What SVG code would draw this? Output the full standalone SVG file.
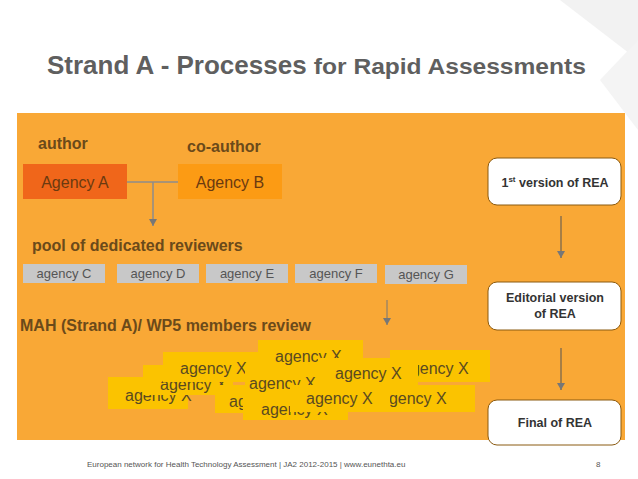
<svg xmlns="http://www.w3.org/2000/svg" width="638" height="479" viewBox="0 0 638 479">
<defs>
<style>
text{font-family:"Liberation Sans",Arial,sans-serif}
.lbl{font-weight:bold;fill:#6b4a1a;font-size:16px}
.gray rect{fill:#c8c8c8}
.gray text{fill:#555;font-size:13px;text-anchor:middle}
.y rect{fill:#fbc300}
.y text{fill:#5a4a20;font-size:16px}
.w rect{fill:#fff;stroke:#8a5a10;stroke-width:1}
.w text{fill:#333;font-size:12.5px;font-weight:bold;text-anchor:middle}
</style>
<marker id="ar" markerWidth="8" markerHeight="8" refX="7" refY="4" orient="auto" markerUnits="userSpaceOnUse"><path d="M0,0 L7,4 L0,8 Z" fill="#777"/></marker>
</defs>
<rect width="638" height="479" fill="#fff"/>
<polygon points="560,0 638,0 638,60" fill="#f2f2f2"/>
<polygon points="600,80 638,40 638,130" fill="#f4f4f4"/>
<text x="47" y="74" font-size="26" font-weight="bold" fill="#5f5f5f">Strand A - Processes <tspan font-size="22" textLength="272" lengthAdjust="spacingAndGlyphs">for Rapid Assessments</tspan></text>
<rect x="17" y="113" width="608" height="327" fill="#f9a836"/>
<g id="t-author"><text class="lbl" x="38" y="149">author</text></g>
<g id="t-coauthor"><text class="lbl" x="187" y="152">co-author</text></g>
<g id="agencyA"><rect x="23" y="164" width="104" height="35" fill="#f0661a"/><text x="75" y="188" font-size="16" fill="#6b3a10" text-anchor="middle">Agency A</text></g>
<g id="agencyB"><rect x="178" y="164" width="104" height="35" fill="#fc9b14"/><text x="230" y="188" font-size="16" fill="#6b3a10" text-anchor="middle">Agency B</text></g>
<g id="t-pool"><text class="lbl" x="32" y="251">pool of dedicated reviewers</text></g>
<g id="gC" class="gray"><rect x="23" y="264" width="82" height="19"/><text x="64" y="278">agency C</text></g>
<g id="gD" class="gray"><rect x="117" y="264" width="82" height="19"/><text x="158" y="278">agency D</text></g>
<g id="gE" class="gray"><rect x="206" y="264" width="82" height="19"/><text x="247" y="278">agency E</text></g>
<g id="gF" class="gray"><rect x="295" y="264" width="82" height="19"/><text x="336" y="278">agency F</text></g>
<g id="gG" class="gray"><rect x="385" y="265" width="82" height="19"/><text x="426" y="279">agency G</text></g>
<g id="t-mah"><text class="lbl" x="20" y="331">MAH (Strand A)/ WP5 members review</text></g>
<g id="reviewers" class="y">
<rect x="108" y="377" width="80" height="32"/><text x="125" y="401">agency X</text>
<rect x="143" y="365" width="90" height="30"/><text x="160" y="390" font-size="15">agency X</text>
<rect x="163" y="352" width="95" height="30"/><text x="180" y="374">agency X</text>
<rect x="215" y="385" width="90" height="28"/><text x="229" y="407">agency X</text>
<rect x="258" y="340" width="105" height="28"/><text x="275" y="362">agency X</text>
<rect x="245" y="365" width="85" height="30"/><text x="249" y="389" font-size="20">agency X</text>
<rect x="243" y="395" width="105" height="25"/><text x="261" y="415">agency X</text>
<rect x="390" y="350" width="100" height="32"/><text x="402" y="374">agency X</text>
<rect x="318" y="358" width="100" height="28"/><text x="335" y="379">agency X</text>
<rect x="375" y="385" width="100" height="27"/><text x="380" y="404">agency X</text>
<rect x="290" y="385" width="100" height="27"/><text x="306" y="404">agency X</text>
</g>
<g id="rea1" class="w"><rect x="488" y="158" width="133" height="47" rx="9"/><text x="555" y="187">1<tspan font-size="8" dy="-5">st</tspan><tspan dy="5"> version of REA</tspan></text></g>
<g id="rea2" class="w"><rect x="488" y="282" width="133" height="48" rx="9"/><text x="555" y="302">Editorial version</text><text x="555" y="318">of REA</text></g>
<g id="rea3" class="w"><rect x="488" y="400" width="133" height="45" rx="9"/><text x="555" y="427">Final of REA</text></g>
<g id="connectors" fill="none" stroke="#8c8c8c" stroke-width="1.5">
<path d="M127,182 H178"/>
<path d="M153,182 V226" marker-end="url(#ar)"/>
<path d="M387,300 V325" stroke="#777" stroke-width="1" marker-end="url(#ar)"/>
<path d="M561,216 V258" stroke="#555" stroke-width="1" marker-end="url(#ar)"/>
<path d="M561,348 V390" stroke="#555" stroke-width="1" marker-end="url(#ar)"/>
</g>
<text x="87" y="467" font-size="8" fill="#555">European network for Health Technology Assessment | JA2 2012-2015 | www.eunethta.eu</text>
<text x="596" y="467" font-size="8" fill="#555">8</text>
</svg>
